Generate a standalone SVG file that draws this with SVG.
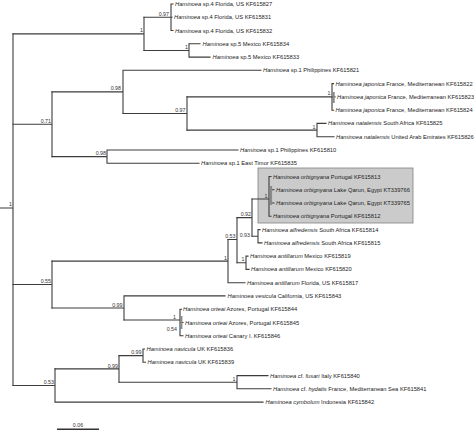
<svg xmlns="http://www.w3.org/2000/svg" width="474" height="431" viewBox="0 0 474 431">
<style>
.br{stroke:#3d3d3d;stroke-width:1.1;fill:none;stroke-linecap:square}
.gb{stroke:#8a8a8a;stroke-width:2.2;fill:none}
.lf{font-family:"Liberation Sans",Arial,sans-serif;font-size:5.75px;fill:#222}
.sp{font-family:"Liberation Sans",Arial,sans-serif;font-size:5.3px;fill:#333;text-anchor:end}
.i{font-style:italic}
</style>
<rect width="474" height="431" fill="#fff"/>
<rect id="highlight-box" x="258" y="168" width="155" height="55" fill="#cbcbcb" stroke="#808080" stroke-width="0.8"/>
<g id="connectors">
<!-- root -->
<path class="br" d="M0,208H13M13,33.9V385.5"/>
<!-- A -->
<path class="br" d="M13,33.9H144M144,17.3V50.5"/>
<path class="br" d="M144,17.3H171M171,4V30.5M171,4H173M171,17.3H172M171,30.5H173"/>
<path class="br" d="M144,50.5H189M189,43.8V57.1M189,43.8H200M189,57.1H210"/>
<!-- B -->
<path class="br" d="M13,124.3H52M52,91.9V156.6"/>
<path class="br" d="M52,91.9H123M123,70.3V113.5M123,70.3H261"/>
<path class="br" d="M123,113.5H187M187,96.9V130.1"/>
<path class="br" d="M187,96.9H332M332,83.6V110.2M332,83.6H333.5M332,96.9H335M332,110.2H333.5"/>
<path class="gb" d="M333.6,92V103"/>
<path class="br" d="M187,130.1H317M317,123.4V136.7M317,123.4H326M317,136.7H334"/>
<path class="br" d="M52,156.6H107M107,150V163.2M107,150H238M107,163.2H199"/>
<!-- C -->
<path class="br" d="M13,284.5H52M52,261.1V308"/>
<path class="br" d="M52,261.1H228M228,239.5V282.7M228,282.7H245"/>
<path class="br" d="M228,239.5H237M237,217.6V262.8"/>
<path class="br" d="M237,217.6H252M252,199V236.3"/>
<path class="br" d="M252,199H269M269,176.5V216.3M269,176.5H271M269,216.3H271M271,189.8H274M271,203H274"/>
<path class="gb" d="M271,186V205"/>
<path class="br" d="M252,236.3H258M258,229.6V242.9M258,229.6H260M258,242.9H262"/>
<path class="br" d="M237,262.8H246M246,256.1V269.4M246,256.1H248M246,269.4H249"/>
<path class="br" d="M52,308H124M124,295.9V320M124,295.9H225"/>
<path class="br" d="M124,320H180M180,309.2V335.7M180,309.2H181.5M180,322.5H183M180,335.7H183"/>
<path class="gb" d="M181.3,316V329"/>
<!-- D -->
<path class="br" d="M13,385.5H55M55,368.9V402.1M55,402.1H263"/>
<path class="br" d="M55,368.9H119M119,355.6V382.2"/>
<path class="br" d="M119,355.6H143M143,349V362.3M143,349H144.5M143,362.3H145.5"/>
<path class="br" d="M119,382.2H237M237,375.6V388.8M237,375.6H268M237,388.8H271"/>
<!-- scale bar -->
<path d="M57,429.3H99" stroke="#333" stroke-width="1.6"/>
</g>
<g id="scale-label"><text class="sp" x="78" y="426.5" style="text-anchor:middle">0.06</text></g>
<g id="support-labels">
<g id="n-root"><text class="sp" x="12" y="206">1</text></g>
<g id="n-A"><text class="sp" x="143" y="32">1</text></g>
<g id="n-A1"><text class="sp" x="169" y="15.5">0.97</text></g>
<g id="n-A2"><text class="sp" x="188" y="49">1</text></g>
<g id="n-B"><text class="sp" x="51" y="122.5">0.71</text></g>
<g id="n-B1"><text class="sp" x="121" y="90">0.98</text></g>
<g id="n-B1a"><text class="sp" x="185.5" y="111.5">0.97</text></g>
<g id="n-J"><text class="sp" x="330.5" y="94.5">1</text></g>
<g id="n-N"><text class="sp" x="315.5" y="128.5">1</text></g>
<g id="n-B2"><text class="sp" x="106" y="155">0.98</text></g>
<g id="n-C"><text class="sp" x="51" y="283">0.55</text></g>
<g id="n-C1"><text class="sp" x="227" y="259.5">1</text></g>
<g id="n-C1a"><text class="sp" x="235.5" y="238">0.53</text></g>
<g id="n-C1a1"><text class="sp" x="251" y="216">0.92</text></g>
<g id="n-O"><text class="sp" x="267.5" y="197.5">1</text></g>
<g id="n-AL"><text class="sp" x="250" y="236.5">0.93</text></g>
<g id="n-AM"><text class="sp" x="244.5" y="261.3">1</text></g>
<g id="n-C2"><text class="sp" x="122.5" y="307">0.99</text></g>
<g id="n-OR"><text class="sp" x="176" y="318.5">1</text></g>
<g id="n-OR2"><text class="sp" x="177" y="330.5">0.54</text></g>
<g id="n-D"><text class="sp" x="54" y="384">0.53</text></g>
<g id="n-D1"><text class="sp" x="118" y="367.5">0.99</text></g>
<g id="n-NV"><text class="sp" x="141.5" y="354">0.99</text></g>
<g id="n-FH"><text class="sp" x="235.5" y="380.7">1</text></g>
</g>
<g id="leaves">
<g id="leaf-KF615827"><text class="lf" x="175" y="6"><tspan class="i">Haminoea</tspan> sp.4 Florida, US KF615827</text></g>
<g id="leaf-KF615831"><text class="lf" x="174" y="19.3"><tspan class="i">Haminoea</tspan> sp.4 Florida, US KF615831</text></g>
<g id="leaf-KF615832"><text class="lf" x="175" y="32.5"><tspan class="i">Haminoea</tspan> sp.4 Florida, US KF615832</text></g>
<g id="leaf-KF615834"><text class="lf" x="202.5" y="45.8"><tspan class="i">Haminoea</tspan> sp.5 Mexico KF615834</text></g>
<g id="leaf-KF615833"><text class="lf" x="212.5" y="59.1"><tspan class="i">Haminoea</tspan> sp.5 Mexico KF615833</text></g>
<g id="leaf-KF615821"><text class="lf" x="263" y="72.3"><tspan class="i">Haminoea</tspan> sp.1 Philippines KF615821</text></g>
<g id="leaf-KF615822"><text class="lf" x="335.5" y="85.6"><tspan class="i">Haminoea japonica</tspan> France, Mediterranean KF615822</text></g>
<g id="leaf-KF615823"><text class="lf" x="337" y="98.9"><tspan class="i">Haminoea japonica</tspan> France, Mediterranean KF615823</text></g>
<g id="leaf-KF615824"><text class="lf" x="335.5" y="112.2"><tspan class="i">Haminoea japonica</tspan> France, Mediterranean KF615824</text></g>
<g id="leaf-KF615825"><text class="lf" x="328" y="125.4"><tspan class="i">Haminoea natalensis</tspan> South Africa KF615825</text></g>
<g id="leaf-KF615826"><text class="lf" x="336" y="138.7"><tspan class="i">Haminoea natalensis</tspan> United Arab Emirates KF615826</text></g>
<g id="leaf-KF615810"><text class="lf" x="240" y="152"><tspan class="i">Haminoea</tspan> sp.1 Philippines KF615810</text></g>
<g id="leaf-KF615835"><text class="lf" x="201" y="165.2"><tspan class="i">Haminoea</tspan> sp.1 East Timor KF615835</text></g>
<g id="leaf-KF615813"><text class="lf" x="273" y="178.5"><tspan class="i">Haminoea orbignyana</tspan> Portugal KF615813</text></g>
<g id="leaf-KT339766"><text class="lf" x="276" y="191.8"><tspan class="i">Haminoea orbignyana</tspan> Lake Qarun, Egypt KT339766</text></g>
<g id="leaf-KT339765"><text class="lf" x="276" y="205"><tspan class="i">Haminoea orbignyana</tspan> Lake Qarun, Egypt KT339765</text></g>
<g id="leaf-KF615812"><text class="lf" x="273" y="218.3"><tspan class="i">Haminoea orbignyana</tspan> Portugal KF615812</text></g>
<g id="leaf-KF615814"><text class="lf" x="262" y="231.6"><tspan class="i">Haminoea alfredensis</tspan> South Africa KF615814</text></g>
<g id="leaf-KF615815"><text class="lf" x="264" y="244.9"><tspan class="i">Haminoea alfredensis</tspan> South Africa KF615815</text></g>
<g id="leaf-KF615819"><text class="lf" x="250" y="258.1"><tspan class="i">Haminoea antillarum</tspan> Mexico KF615819</text></g>
<g id="leaf-KF615820"><text class="lf" x="251" y="271.4"><tspan class="i">Haminoea antillarum</tspan> Mexico KF615820</text></g>
<g id="leaf-KF615817"><text class="lf" x="247" y="284.7"><tspan class="i">Haminoea antillarum</tspan> Florida, US KF615817</text></g>
<g id="leaf-KF615843"><text class="lf" x="227.5" y="297.9"><tspan class="i">Haminoea vesicula</tspan> California, US KF615843</text></g>
<g id="leaf-KF615844"><text class="lf" x="183" y="311.2"><tspan class="i">Haminoea orteai</tspan> Azores, Portugal KF615844</text></g>
<g id="leaf-KF615845"><text class="lf" x="185" y="324.5"><tspan class="i">Haminoea orteai</tspan> Azores, Portugal KF615845</text></g>
<g id="leaf-KF615846"><text class="lf" x="185" y="337.7"><tspan class="i">Haminoea orteai</tspan> Canary I. KF615846</text></g>
<g id="leaf-KF615836"><text class="lf" x="146.5" y="351"><tspan class="i">Haminoea navicula</tspan> UK KF615836</text></g>
<g id="leaf-KF615839"><text class="lf" x="147.5" y="364.3"><tspan class="i">Haminoea navicula</tspan> UK KF615839</text></g>
<g id="leaf-KF615840"><text class="lf" x="270" y="377.6"><tspan class="i">Haminoea</tspan> cf. <tspan class="i">fusari</tspan> Italy KF615840</text></g>
<g id="leaf-KF615841"><text class="lf" x="273" y="390.8"><tspan class="i">Haminoea</tspan> cf. <tspan class="i">hydatis</tspan> France, Mediterranean Sea KF615841</text></g>
<g id="leaf-KF615842"><text class="lf" x="265.5" y="404.1"><tspan class="i">Haminoea cymbolum</tspan> Indonesia KF615842</text></g>
</g>
</svg>
